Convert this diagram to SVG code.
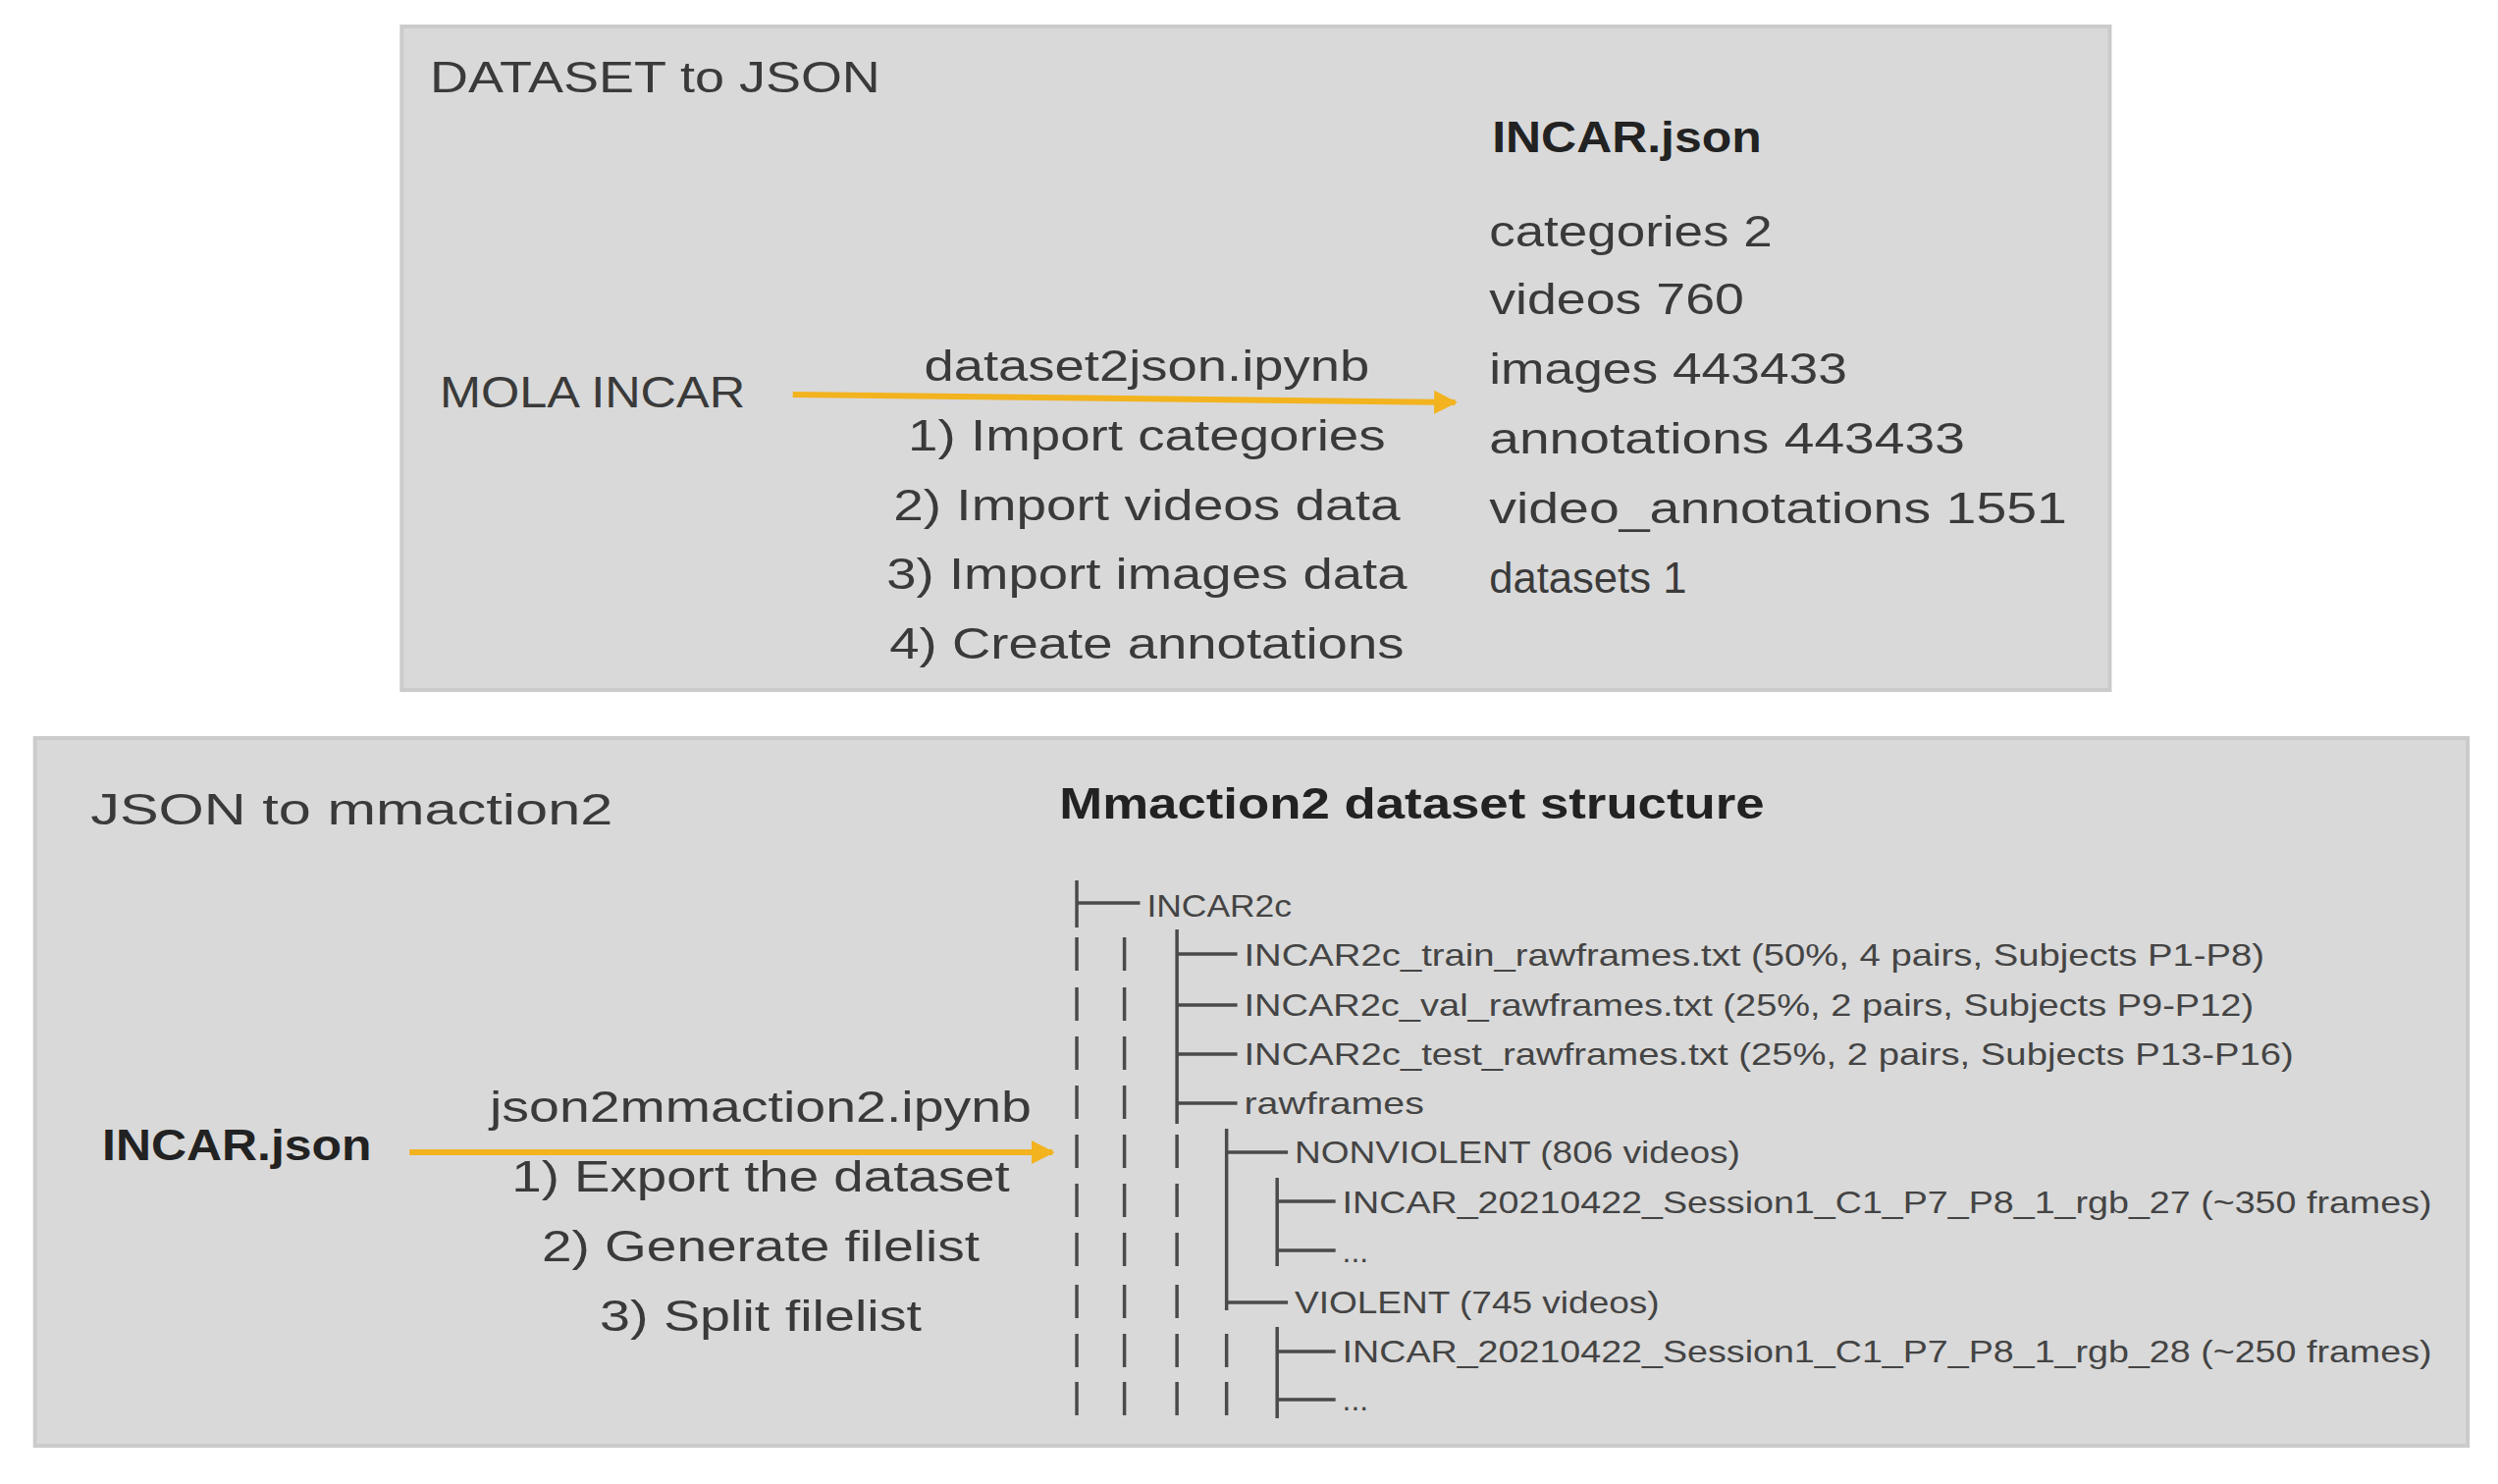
<svg xmlns="http://www.w3.org/2000/svg" width="2545" height="1512" viewBox="0 0 2545 1512">
<style>
.box{fill:#d9d9d9;stroke:#cbcbcb;stroke-width:4}
.t{font-family:"Liberation Sans",Arial,sans-serif;fill:#3a3a3a;font-size:44px}
.b{font-weight:bold;fill:#222}
.c{text-anchor:middle}
.s{font-size:32px;fill:#444}
.arr{stroke:#f2b31f;stroke-width:6;fill:none}
.tl{stroke:#4a4a4a;stroke-width:3.5;fill:none}
.dl{stroke:#4a4a4a;stroke-width:3.5;fill:none}
</style>
<defs>
<marker id="ah" viewBox="0 0 10 10" refX="9" refY="5" markerWidth="4" markerHeight="4" orient="auto"><path d="M0,0 L10,5 L0,10 z" fill="#f2b31f"/></marker>
</defs>
<rect width="2545" height="1512" fill="#fff"/>
<g transform="scale(0.991,1)">
<g id="top">
<rect class="box" x="413" y="27" width="1756" height="676"/>
<text class="t" x="442" y="94" textLength="463" lengthAdjust="spacingAndGlyphs">DATASET to JSON</text>
<text class="t b" x="1534" y="155" textLength="277" lengthAdjust="spacingAndGlyphs">INCAR.json</text>
<text class="t" x="1531" y="251" textLength="291" lengthAdjust="spacingAndGlyphs">categories 2</text>
<text class="t" x="1531" y="320" textLength="262" lengthAdjust="spacingAndGlyphs">videos 760</text>
<text class="t" x="1531" y="391" textLength="368" lengthAdjust="spacingAndGlyphs">images 443433</text>
<text class="t" x="1531" y="462" textLength="489" lengthAdjust="spacingAndGlyphs">annotations 443433</text>
<text class="t" x="1531" y="533" textLength="594" lengthAdjust="spacingAndGlyphs">video_annotations 1551</text>
<text class="t" x="1531" y="604">datasets 1</text>
<text class="t" x="452" y="415" textLength="314" lengthAdjust="spacingAndGlyphs">MOLA INCAR</text>
<text class="t c" x="1179" y="388" textLength="458" lengthAdjust="spacingAndGlyphs">dataset2json.ipynb</text>
<text class="t c" x="1179" y="459" textLength="491" lengthAdjust="spacingAndGlyphs">1) Import categories</text>
<text class="t c" x="1179" y="530" textLength="521" lengthAdjust="spacingAndGlyphs">2) Import videos data</text>
<text class="t c" x="1179" y="600" textLength="535" lengthAdjust="spacingAndGlyphs">3) Import images data</text>
<text class="t c" x="1179" y="671" textLength="529" lengthAdjust="spacingAndGlyphs">4) Create annotations</text>
</g>
<g id="bottom">
<rect class="box" x="36" y="752" width="2501" height="721"/>
<text class="t" x="93" y="840" textLength="537" lengthAdjust="spacingAndGlyphs">JSON to mmaction2</text>
<text class="t b" x="1089" y="834" textLength="725" lengthAdjust="spacingAndGlyphs">Mmaction2 dataset structure</text>
<text class="t b" x="105" y="1182" textLength="277" lengthAdjust="spacingAndGlyphs">INCAR.json</text>
<text class="t c" x="782" y="1143" textLength="557" lengthAdjust="spacingAndGlyphs">json2mmaction2.ipynb</text>
<text class="t c" x="782" y="1214" textLength="512" lengthAdjust="spacingAndGlyphs">1) Export the dataset</text>
<text class="t c" x="782" y="1285" textLength="450" lengthAdjust="spacingAndGlyphs">2) Generate filelist</text>
<text class="t c" x="782" y="1356" textLength="331" lengthAdjust="spacingAndGlyphs">3) Split filelist</text>
</g>
<g id="tree">
<text class="t s" x="1179" y="934" textLength="149" lengthAdjust="spacingAndGlyphs">INCAR2c</text>
<text class="t s" x="1279" y="984" textLength="1049" lengthAdjust="spacingAndGlyphs">INCAR2c_train_rawframes.txt (50%, 4 pairs, Subjects P1-P8)</text>
<text class="t s" x="1279" y="1035" textLength="1038" lengthAdjust="spacingAndGlyphs">INCAR2c_val_rawframes.txt (25%, 2 pairs, Subjects P9-P12)</text>
<text class="t s" x="1279" y="1085" textLength="1079" lengthAdjust="spacingAndGlyphs">INCAR2c_test_rawframes.txt (25%, 2 pairs, Subjects P13-P16)</text>
<text class="t s" x="1279" y="1135" textLength="185" lengthAdjust="spacingAndGlyphs">rawframes</text>
<text class="t s" x="1331" y="1185" textLength="458" lengthAdjust="spacingAndGlyphs">NONVIOLENT (806 videos)</text>
<text class="t s" x="1380" y="1236" textLength="1120" lengthAdjust="spacingAndGlyphs">INCAR_20210422_Session1_C1_P7_P8_1_rgb_27 (~350 frames)</text>
<text class="t s" x="1380" y="1286">...</text>
<text class="t s" x="1331" y="1338" textLength="375" lengthAdjust="spacingAndGlyphs">VIOLENT (745 videos)</text>
<text class="t s" x="1380" y="1388" textLength="1120" lengthAdjust="spacingAndGlyphs">INCAR_20210422_Session1_C1_P7_P8_1_rgb_28 (~250 frames)</text>
<text class="t s" x="1380" y="1437">...</text>
</g>
<g id="connectors">
<line class="arr" x1="815" y1="402" x2="1496" y2="410" marker-end="url(#ah)"/>
<line class="arr" x1="421" y1="1174" x2="1082" y2="1174" marker-end="url(#ah)"/>
<g class="tl">
<path d="M1107,897 V945 M1107,920 H1172"/>
<path d="M1210,947 V1145 M1210,972 H1272 M1210,1024 H1272 M1210,1074 H1272 M1210,1124 H1272"/>
<path d="M1261,1150 V1335 M1261,1174 H1324 M1261,1327 H1324"/>
<path d="M1313,1200 V1290 M1313,1224 H1373 M1313,1274 H1373"/>
<path d="M1313,1352 V1445 M1313,1377 H1373 M1313,1426 H1373"/>
</g>
<g class="dl">
<path d="M1107,955 v34 M1107,1006 v34 M1107,1056 v34 M1107,1106 v34 M1107,1156 v34 M1107,1206 v34 M1107,1256 v34 M1107,1309 v34 M1107,1359 v34 M1107,1408 v34"/>
<path d="M1156,955 v34 M1156,1006 v34 M1156,1056 v34 M1156,1106 v34 M1156,1156 v34 M1156,1206 v34 M1156,1256 v34 M1156,1309 v34 M1156,1359 v34 M1156,1408 v34"/>
<path d="M1210,1156 v34 M1210,1206 v34 M1210,1256 v34 M1210,1309 v34 M1210,1359 v34 M1210,1408 v34"/>
<path d="M1261,1359 v34 M1261,1408 v34"/>
</g>
</g>
</g>
</svg>
